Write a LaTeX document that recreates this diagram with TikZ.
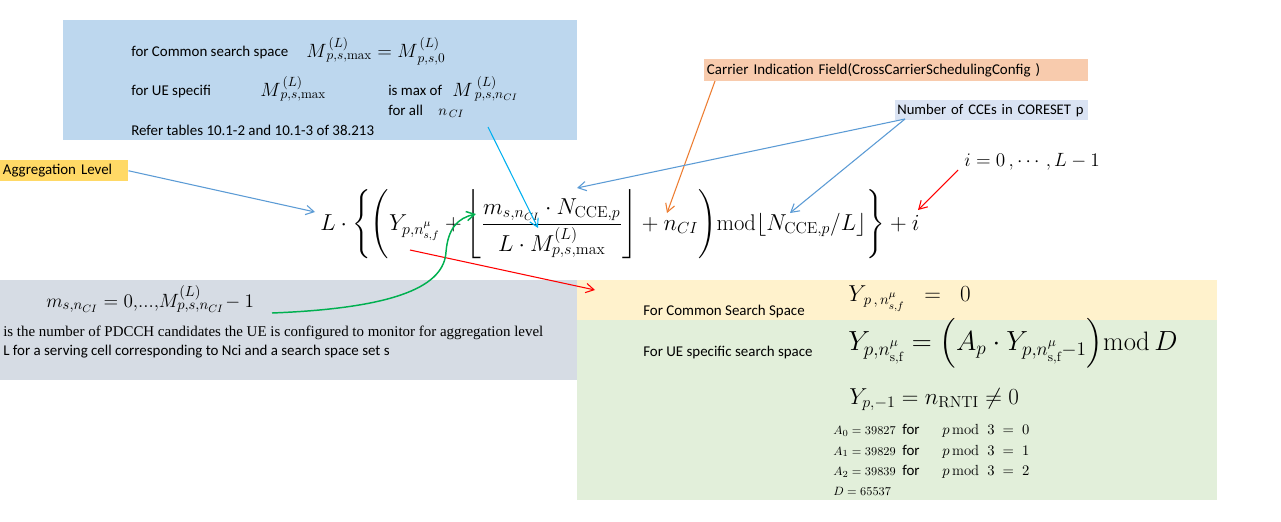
\documentclass[tikz,border=0pt]{standalone}
\usepackage{fontspec}
\usepackage{amsmath}
\usetikzlibrary{arrows.meta}
\newfontfamily\calib{Carlito}
\newfontfamily\tnr{Liberation Serif}
\definecolor{bluebg}{HTML}{BDD7EE}
\definecolor{orangebg}{HTML}{F8CBAD}
\definecolor{ccebg}{HTML}{DAE3F3}
\definecolor{aggbg}{HTML}{FFD966}
\definecolor{graybg}{HTML}{D6DCE4}
\definecolor{yellowbg}{HTML}{FFF2CC}
\definecolor{greenbg}{HTML}{E2EFDA}
\definecolor{lineblue}{HTML}{5B9BD5}
\definecolor{linecyan}{HTML}{00B0F0}
\definecolor{lineorange}{HTML}{ED7D31}
\definecolor{linegreen}{HTML}{00B050}
\begin{document}
\begin{tikzpicture}[x=0.75pt,y=-0.75pt,
  font=\calib\fontsize{11.2}{13}\selectfont,
  lbl/.style={anchor=base west,inner sep=0pt},
  tag/.style={anchor=north west,inner xsep=2pt,inner ysep=0pt,align=left},
  barb/.style={-{Straight Barb[angle=60:7pt]},line width=0.8pt},
  panel/.style={anchor=north west,inner sep=0pt}]
\useasboundingbox[fill=white] (0,0) rectangle (1281,521);
% panels
\node[panel,fill=bluebg,minimum width=514*0.75pt,minimum height=120*0.75pt] (bluebox) at (63,20) {};
\node[panel,fill=graybg,minimum width=577*0.75pt,minimum height=100*0.75pt] (graybox) at (0,280) {};
\node[panel,fill=yellowbg,minimum width=640*0.75pt,minimum height=40*0.75pt] (yellowbox) at (577,280) {};
\node[panel,fill=greenbg,minimum width=640*0.75pt,minimum height=180*0.75pt] (greenbox) at (577,320) {};
% label boxes
\node[tag,fill=aggbg,text width=128*0.75pt-4pt,minimum height=21*0.75pt] (agg) at (0,160) {Aggregation Level};
\node[tag,fill=orangebg,text width=384*0.75pt-4pt,minimum height=22*0.75pt] (carrier) at (704,59) {Carrier Indication Field(CrossCarrierSchedulingConfig )};
\node[tag,fill=ccebg,text width=193*0.75pt-3pt,inner xsep=1.5pt,minimum height=20*0.75pt,font=\calib\fontsize{11}{13}\selectfont] (cce) at (895,100) {Number of CCEs in CORESET p};
% blue box texts
\node[lbl] (cs) at (131,56) {for Common search space};
\node[lbl,font=\fontsize{14}{16}\selectfont] (csm) at (306,57) {$M^{\,(L)}_{\,p,s,\max}=M^{\,(L)}_{\,p,s,0}$};
\node[lbl] (ue) at (131,95) {for UE specifi};
\node[lbl,font=\fontsize{14}{16}\selectfont] (uem) at (260,96) {$M^{\,(L)}_{\,p,s,\max}$};
\node[lbl] (ismax) at (388,95) {is max of};
\node[lbl,font=\fontsize{14}{16}\selectfont] (ismaxm) at (452,96) {$M^{\,\,(L)}_{\,\,p,s,n_{CI}}$};
\node[lbl] (forall) at (388,115) {for all};
\node[lbl,font=\fontsize{11}{13}\selectfont] (forallm) at (438,115) {$n_{\,CI}$};
\node[lbl] (refer) at (131,135) {Refer tables 10.1-2 and 10.1-3 of 38.213};
% main formula
\node[lbl,font=\fontsize{17}{20}\selectfont] (main) at (320,230) {$\displaystyle L\cdot\left\{\left(Y_{p,n^{\mu}_{s,f}}+\left\lfloor\frac{m_{s,n_{CI}}\cdot N_{\mathrm{CCE},p}}{L\cdot M^{(L)}_{p,s,\max}}\right\rfloor+n_{CI}\right)\!\mathrm{mod}\!\left\lfloor N_{\mathrm{CCE},p}/L\right\rfloor\right\}+i$};
\node[lbl,font=\fontsize{14}{17}\selectfont] (irange) at (964,166) {$i=0\,,\cdots,L-1$};
% gray box texts
\node[lbl,font=\fontsize{15.5}{18}\selectfont] (mdef) at (46,307) {$m_{s,n_{CI}}=0,\!...,\!M^{(L)}_{p,s,n_{CI}}\!-1$};
\node[lbl,font=\tnr\fontsize{11.2}{13}\selectfont] (isnum) at (3,336) {is the number of PDCCH candidates the UE is configured to monitor for aggregation level};
\node[lbl] (lfor) at (3,355) {L for a serving cell corresponding to Nci and a search space set s};
% right panel texts
\node[lbl] (common) at (643,315) {For Common Search Space};
\node[lbl,font=\fontsize{16}{19}\selectfont] (ycommon) at (848,301) {$Y_{\,p\,,\,n^{\mu}_{s,f}}\;\;=\;\;0$};
\node[lbl] (uess) at (643,356) {For UE specific search space};
\node[lbl,font=\fontsize{20}{24}\selectfont] (yue) at (848,350) {$Y_{p,n^{\mu}_{\mathrm{s,f}}}=\left(A_p\cdot Y_{p,n^{\mu}_{\mathrm{s,f}}-1}\right)\!\mathrm{mod}\,D$};
\node[lbl,font=\fontsize{17}{20}\selectfont] (yinit) at (849,404) {$Y_{p,-1}=n_{\mathrm{RNTI}}\neq0$};
\foreach \k/\v/\r [count=\n] in {0/39827/0,1/39829/1,2/39839/2}{
  \node[lbl,font=\fontsize{9.5}{11}\selectfont] (a\k) at (833,414+20.5*\n) {$A_{\k}=\v$};
  \node[lbl] (for\k) at (902,414+20.5*\n) {for};
  \node[lbl,font=\fontsize{11}{13}\selectfont] (p\k) at (942,414+20.5*\n) {$p\,\mathrm{mod}\;\;3\;=\;\r$};
}
\node[lbl,font=\fontsize{9.5}{11}\selectfont] (dval) at (833,495) {$D=65537$};
% arrow end points
\coordinate (tAgg) at (315,212);
\coordinate (sCyan) at (488,127);
\coordinate (tCyan) at (538,228);
\coordinate (sOr) at (715,81);
\coordinate (tOr) at (667,213);
\coordinate (sCce) at (905,119);
\coordinate (tCce1) at (577,188);
\coordinate (tCce2) at (790,213);
\coordinate (sI) at (958,170);
\coordinate (tI) at (918,210);
\coordinate (sY) at (410,250);
\coordinate (tY) at (595,290);
\coordinate (sG) at (272,313);
\coordinate (mG) at (446,252);
\coordinate (tG) at (476,214);
% arrows
\draw[barb,lineblue] (agg.east) -- (tAgg);
\draw[barb,linecyan] (sCyan) -- (tCyan);
\draw[barb,lineorange] (sOr) -- (tOr);
\draw[barb,lineblue] (sCce) -- (tCce1);
\draw[barb,lineblue] (sCce) -- (tCce2);
\draw[barb,red] (sI) -- (tI);
\draw[barb,red] (sY) -- (tY);
\draw[barb,linegreen,line width=1.1pt] (sG) .. controls (400,308) and (444,285) .. (mG) .. controls (448,228) and (458,218) .. (tG);
\end{tikzpicture}
\end{document}
